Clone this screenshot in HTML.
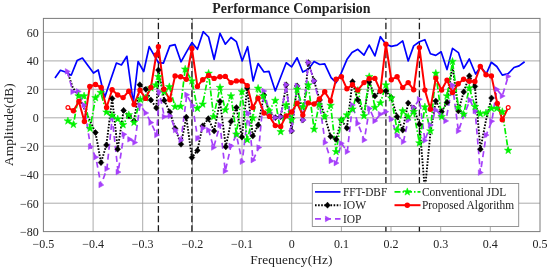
<!DOCTYPE html>
<html lang="en"><head><meta charset="utf-8"><title>Performance Comparision</title>
<style>html,body{margin:0;padding:0;background:#fff}body{width:550px;height:270px;overflow:hidden}svg{display:block}text{font-family:"Liberation Serif", "Times New Roman", serif;fill:#222}</style></head><body>
<svg width="550" height="270" viewBox="0 0 550 270">
<rect width="550" height="270" fill="#fff"/>
<g stroke="#959595" stroke-width="0.8" fill="none">
<line x1="93.1" y1="18.4" x2="93.1" y2="231.6"/>
<line x1="142.7" y1="18.4" x2="142.7" y2="231.6"/>
<line x1="192.4" y1="18.4" x2="192.4" y2="231.6"/>
<line x1="242.0" y1="18.4" x2="242.0" y2="231.6"/>
<line x1="291.7" y1="18.4" x2="291.7" y2="231.6"/>
<line x1="341.4" y1="18.4" x2="341.4" y2="231.6"/>
<line x1="391.0" y1="18.4" x2="391.0" y2="231.6"/>
<line x1="440.7" y1="18.4" x2="440.7" y2="231.6"/>
<line x1="490.3" y1="18.4" x2="490.3" y2="231.6"/>
<line x1="43.4" y1="203.2" x2="540.0" y2="203.2"/>
<line x1="43.4" y1="174.7" x2="540.0" y2="174.7"/>
<line x1="43.4" y1="146.2" x2="540.0" y2="146.2"/>
<line x1="43.4" y1="117.8" x2="540.0" y2="117.8"/>
<line x1="43.4" y1="89.3" x2="540.0" y2="89.3"/>
<line x1="43.4" y1="60.9" x2="540.0" y2="60.9"/>
<line x1="43.4" y1="32.4" x2="540.0" y2="32.4"/>
</g>
<rect x="43.4" y="18.4" width="496.6" height="213.2" fill="none" stroke="#7a7a7a" stroke-width="1"/>
<line x1="158.4" y1="18.4" x2="158.4" y2="231.6" stroke="#1a1a1a" stroke-width="1.3" stroke-dasharray="6.7,2.95" stroke-dashoffset="5.4"/>
<line x1="191.9" y1="18.4" x2="191.9" y2="231.6" stroke="#1a1a1a" stroke-width="1.3" stroke-dasharray="6.7,2.95" stroke-dashoffset="5.4"/>
<line x1="385.9" y1="18.4" x2="385.9" y2="231.6" stroke="#1a1a1a" stroke-width="1.3" stroke-dasharray="6.7,2.95" stroke-dashoffset="5.4"/>
<line x1="419.4" y1="18.4" x2="419.4" y2="231.6" stroke="#1a1a1a" stroke-width="1.3" stroke-dasharray="6.7,2.95" stroke-dashoffset="5.4"/>
<defs>
<path id="dm" d="M0-3.1L2.9 0L0 3.1L-2.9 0Z" fill="#000" stroke="#000" stroke-width="0.4"/>
<path id="tm" d="M-2.1-2.8L2.9 0L-2.1 2.8Z" fill="#a640fa" stroke="#a640fa" stroke-width="0.5"/>
<path id="sm" d="M0-4L0.95-1.3L3.8-1.25L1.55 0.5L2.35 3.25L0 1.6L-2.35 3.25L-1.55 0.5L-3.8-1.25L-0.95-1.3Z" fill="#00f200" stroke="#00f200" stroke-width="0.5"/>
<circle id="cm" r="2.7" fill="#ff0000"/>
<circle id="co" r="1.9" fill="#fff" stroke="#ff0000" stroke-width="1.2"/>
</defs>
<clipPath id="cp"><rect x="43.4" y="18.4" width="496.6" height="213.2"/></clipPath>
<g clip-path="url(#cp)" fill="none" stroke-linejoin="round">
<polyline points="55.0,78.1 60.4,70.3 65.4,72.0 71.2,75.2 77.1,60.6 82.4,58.0 87.9,65.5 93.5,73.0 98.2,70.0 104.7,97.6 110.5,80.3 116.4,63.0 121.4,65.0 126.9,56.3 133.3,103.0 138.1,61.5 143.7,71.5 149.2,46.7 153.8,54.7 158.4,62.6 163.4,63.1 169.8,45.9 175.1,44.7 181.0,61.8 186.4,52.2 191.9,42.6 197.4,49.3 203.2,31.7 208.6,37.0 214.1,59.3 220.0,33.4 225.3,44.2 231.0,37.5 236.4,41.7 242.2,61.0 247.6,46.7 253.1,80.9 258.1,63.6 264.0,72.0 269.0,71.4 275.3,91.0 280.7,77.0 286.2,62.8 291.6,66.9 297.1,57.8 302.8,72.0 308.3,69.2 314.1,61.5 319.7,64.5 324.7,63.8 331.1,77.6 336.1,82.6 341.1,73.4 346.9,59.6 352.0,52.6 357.8,49.3 364.0,55.1 369.2,45.1 374.9,55.9 380.4,36.7 385.9,44.2 391.3,46.4 397.1,45.1 402.7,40.9 408.2,61.0 413.7,45.9 419.4,41.7 424.9,39.7 430.4,53.8 435.8,55.4 441.1,51.8 447.0,69.6 452.5,48.4 458.4,52.6 463.7,68.4 469.3,59.0 475.6,74.0 480.6,66.7 486.4,73.7 491.3,62.3 496.8,66.5 502.3,75.1 508.2,73.7 514.0,67.5 519.1,65.9 524.6,61.7" stroke="#0000ff" stroke-width="1.7"/>
<polyline points="67.4,71.4 72.9,88.0 78.4,95.0 84.0,108.0 89.6,120.0 95.5,132.6 101.0,162.6 106.4,145.0 112.2,98.5 117.7,149.2 123.6,110.4 129.0,116.0 134.0,121.0 139.8,84.8 145.9,89.3 150.9,100.0 156.4,108.0 158.4,70.0 164.3,100.4 169.8,112.0 175.1,128.4 181.0,144.2 186.3,117.2 191.9,157.6 197.4,150.4 202.7,125.9 208.3,118.7 214.1,131.0 220.0,101.4 225.8,146.8 231.0,121.5 236.4,107.5 241.9,137.1 247.2,88.0 252.8,136.0 258.1,125.1 264.0,95.0 269.5,113.0 275.3,117.6 280.7,116.7 286.2,84.8 291.6,130.9 297.1,85.9 302.8,120.0 308.3,62.5 314.1,80.9 319.7,100.0 325.0,117.0 330.6,136.5 336.1,139.3 341.4,120.0 346.9,128.1 352.5,81.7 357.8,100.0 364.0,115.0 369.2,82.0 374.9,96.0 380.4,91.0 385.9,91.0 391.3,97.6 397.1,116.7 402.7,130.1 408.2,103.0 413.7,108.0 419.4,124.3 424.9,190.0 430.4,133.0 435.8,101.0 441.6,111.7 447.0,102.5 452.5,65.5 458.4,110.9 463.7,91.9 469.3,75.9 474.9,86.4 480.4,149.2 486.0,120.0 491.5,98.0" stroke="#000" stroke-width="1.9" stroke-dasharray="1.6,1.5"/>
<polyline points="67.4,71.4 72.9,91.8 78.4,91.4 84.0,105.0 90.5,146.7 95.8,157.2 101.0,185.0 106.9,168.8 112.2,118.0 118.1,172.1 124.0,134.3 129.8,139.3 134.8,142.5 140.0,105.0 145.9,113.0 150.9,122.6 156.7,135.0 159.2,91.8 164.3,116.7 170.1,115.9 175.5,130.0 181.0,140.1 186.8,94.8 192.5,105.5 197.7,138.5 203.0,128.0 208.6,130.1 213.6,147.5 220.0,125.0 225.3,171.0 231.0,145.9 236.4,135.0 242.2,161.7 248.1,113.0 253.1,160.1 258.9,147.5 264.0,91.0 269.5,113.0 275.3,117.6 280.7,116.7 286.2,84.8 291.6,130.9 297.1,85.9 303.3,120.1 308.3,62.5 314.1,80.9 319.7,105.0 325.2,142.5 331.1,160.9 336.1,163.1 341.4,143.3 347.3,151.7 352.5,105.0 357.8,123.4 364.3,140.0 369.5,108.4 374.9,120.9 380.4,114.2 385.9,111.7 391.3,119.2 397.1,135.1 403.4,141.8 408.2,120.0 413.7,107.5 419.4,99.3 424.9,140.5 430.4,125.0 435.8,110.0 441.0,115.0 445.8,120.9 452.5,85.1 458.4,131.0 464.0,115.0 470.0,100.1 475.1,110.9 480.4,172.6 486.2,135.1 491.8,121.2 496.8,89.3 502.3,96.0 508.2,76.4" stroke="#a640fa" stroke-width="1.7" stroke-dasharray="6,4"/>
<polyline points="67.9,121.0 73.4,124.5 78.6,96.0 84.1,96.0 90.1,128.5 95.5,97.8 100.7,92.6 106.5,112.2 112.0,115.5 117.7,119.1 123.1,124.8 128.8,114.9 134.0,122.5 140.3,99.5 145.6,98.0 150.9,88.0 155.9,85.1 158.4,76.7 164.0,92.0 169.3,86.8 175.1,106.7 180.6,106.4 185.2,69.2 191.9,81.0 197.4,108.4 202.7,104.2 208.6,73.4 213.6,116.7 220.0,87.6 225.3,110.0 231.0,96.0 236.4,134.3 241.9,91.8 247.2,139.8 252.8,118.0 258.1,88.4 263.1,96.0 269.0,110.9 275.3,100.5 280.7,131.8 286.2,105.0 291.6,119.7 297.1,89.3 302.8,107.0 308.3,85.1 314.1,129.3 319.0,105.0 324.7,116.7 330.6,105.5 336.1,151.7 341.4,120.1 346.9,115.1 352.5,109.2 357.8,90.5 364.0,115.9 369.2,76.7 374.9,107.5 380.4,103.0 385.9,85.1 391.3,98.0 397.1,130.1 402.7,110.9 408.2,116.7 413.7,111.7 419.4,143.0 424.9,107.0 430.4,131.0 435.8,73.4 441.6,116.7 447.0,96.0 452.5,61.5 458.4,107.5 463.6,114.2 469.3,88.0 475.1,106.7 480.3,113.8 486.0,113.0 491.4,108.4 496.8,108.4 502.3,111.7 508.2,150.4" stroke="#00f200" stroke-width="1.7" stroke-dasharray="6,2,1.5,2"/>
<polyline points="67.9,107.5 73.4,110.8 78.9,101.5 84.4,121.5 89.8,86.5 95.5,84.5 101.2,87.5 106.6,107.5 112.1,89.7 117.7,95.0 123.1,97.6 128.8,91.2 134.1,104.5 140.0,90.1 145.6,98.4 150.9,87.5 156.2,55.0 158.4,46.7 163.9,89.3 169.8,99.8 175.1,75.9 180.6,76.7 186.3,79.2 191.9,48.4 197.4,86.4 202.7,79.7 208.6,75.4 214.1,78.4 220.0,76.7 225.3,76.4 231.0,82.6 236.4,80.9 241.9,80.9 247.2,85.6 252.8,107.5 258.1,98.1 264.0,113.0 269.5,116.4 275.3,125.6 280.7,126.4 286.2,115.9 291.6,112.0 297.1,103.2 302.8,115.1 308.3,102.9 314.1,104.0 319.4,99.0 324.7,91.8 330.6,101.0 336.1,79.2 341.4,76.7 346.9,88.8 352.5,84.8 357.8,90.1 364.0,82.6 369.2,78.7 374.9,78.4 380.4,90.9 385.9,44.2 391.3,79.7 397.1,76.7 402.7,87.6 408.2,82.6 413.7,89.8 419.4,47.6 424.9,90.1 430.4,109.2 435.8,78.1 441.6,90.1 447.0,80.1 452.5,92.6 458.2,83.8 463.6,79.2 469.3,81.2 474.9,81.5 480.3,66.4 486.0,74.7 491.4,75.9 497.3,103.4 502.3,119.7 508.2,107.5" stroke="#ff0000" stroke-width="2"/>
<use href="#dm" x="95.5" y="132.6"/>
<use href="#dm" x="101.0" y="162.6"/>
<use href="#dm" x="106.4" y="145.0"/>
<use href="#dm" x="112.2" y="98.5"/>
<use href="#dm" x="117.7" y="149.2"/>
<use href="#dm" x="123.6" y="110.4"/>
<use href="#dm" x="129.0" y="116.0"/>
<use href="#dm" x="134.0" y="121.0"/>
<use href="#dm" x="139.8" y="84.8"/>
<use href="#dm" x="145.9" y="89.3"/>
<use href="#dm" x="150.9" y="100.0"/>
<use href="#dm" x="156.4" y="108.0"/>
<use href="#dm" x="158.4" y="70.0"/>
<use href="#dm" x="164.3" y="100.4"/>
<use href="#dm" x="169.8" y="112.0"/>
<use href="#dm" x="175.1" y="128.4"/>
<use href="#dm" x="181.0" y="144.2"/>
<use href="#dm" x="186.3" y="117.2"/>
<use href="#dm" x="191.9" y="157.6"/>
<use href="#dm" x="197.4" y="150.4"/>
<use href="#dm" x="202.7" y="125.9"/>
<use href="#dm" x="208.3" y="118.7"/>
<use href="#dm" x="214.1" y="131.0"/>
<use href="#dm" x="220.0" y="101.4"/>
<use href="#dm" x="225.8" y="146.8"/>
<use href="#dm" x="231.0" y="121.5"/>
<use href="#dm" x="236.4" y="107.5"/>
<use href="#dm" x="241.9" y="137.1"/>
<use href="#dm" x="247.2" y="88.0"/>
<use href="#dm" x="252.8" y="136.0"/>
<use href="#dm" x="258.1" y="125.1"/>
<use href="#dm" x="264.0" y="95.0"/>
<use href="#dm" x="269.5" y="113.0"/>
<use href="#dm" x="275.3" y="117.6"/>
<use href="#dm" x="280.7" y="116.7"/>
<use href="#dm" x="286.2" y="84.8"/>
<use href="#dm" x="291.6" y="130.9"/>
<use href="#dm" x="297.1" y="85.9"/>
<use href="#dm" x="302.8" y="120.0"/>
<use href="#dm" x="308.3" y="62.5"/>
<use href="#dm" x="314.1" y="80.9"/>
<use href="#dm" x="319.7" y="100.0"/>
<use href="#dm" x="330.6" y="136.5"/>
<use href="#dm" x="336.1" y="139.3"/>
<use href="#dm" x="341.4" y="120.0"/>
<use href="#dm" x="346.9" y="128.1"/>
<use href="#dm" x="352.5" y="81.7"/>
<use href="#dm" x="357.8" y="100.0"/>
<use href="#dm" x="369.2" y="82.0"/>
<use href="#dm" x="374.9" y="96.0"/>
<use href="#dm" x="380.4" y="91.0"/>
<use href="#dm" x="385.9" y="91.0"/>
<use href="#dm" x="391.3" y="97.6"/>
<use href="#dm" x="397.1" y="116.7"/>
<use href="#dm" x="402.7" y="130.1"/>
<use href="#dm" x="408.2" y="103.0"/>
<use href="#dm" x="413.7" y="108.0"/>
<use href="#dm" x="419.4" y="124.3"/>
<use href="#dm" x="424.9" y="190.0"/>
<use href="#dm" x="435.8" y="101.0"/>
<use href="#dm" x="441.6" y="111.7"/>
<use href="#dm" x="447.0" y="102.5"/>
<use href="#dm" x="458.4" y="110.9"/>
<use href="#dm" x="463.7" y="91.9"/>
<use href="#dm" x="469.3" y="75.9"/>
<use href="#dm" x="474.9" y="86.4"/>
<use href="#dm" x="480.4" y="149.2"/>
<use href="#dm" x="491.5" y="98.0"/>
<use href="#tm" x="67.4" y="71.4"/>
<use href="#tm" x="72.9" y="91.8"/>
<use href="#tm" x="78.4" y="91.4"/>
<use href="#tm" x="84.0" y="105.0"/>
<use href="#tm" x="90.5" y="146.7"/>
<use href="#tm" x="95.8" y="157.2"/>
<use href="#tm" x="101.0" y="185.0"/>
<use href="#tm" x="106.9" y="168.8"/>
<use href="#tm" x="112.2" y="118.0"/>
<use href="#tm" x="118.1" y="172.1"/>
<use href="#tm" x="124.0" y="134.3"/>
<use href="#tm" x="129.8" y="139.3"/>
<use href="#tm" x="134.8" y="142.5"/>
<use href="#tm" x="140.0" y="105.0"/>
<use href="#tm" x="145.9" y="113.0"/>
<use href="#tm" x="150.9" y="122.6"/>
<use href="#tm" x="156.7" y="135.0"/>
<use href="#tm" x="159.2" y="91.8"/>
<use href="#tm" x="164.3" y="116.7"/>
<use href="#tm" x="170.1" y="115.9"/>
<use href="#tm" x="175.5" y="130.0"/>
<use href="#tm" x="181.0" y="140.1"/>
<use href="#tm" x="186.8" y="94.8"/>
<use href="#tm" x="192.5" y="105.5"/>
<use href="#tm" x="197.7" y="138.5"/>
<use href="#tm" x="203.0" y="128.0"/>
<use href="#tm" x="208.6" y="130.1"/>
<use href="#tm" x="213.6" y="147.5"/>
<use href="#tm" x="220.0" y="125.0"/>
<use href="#tm" x="225.3" y="171.0"/>
<use href="#tm" x="231.0" y="145.9"/>
<use href="#tm" x="236.4" y="135.0"/>
<use href="#tm" x="242.2" y="161.7"/>
<use href="#tm" x="248.1" y="113.0"/>
<use href="#tm" x="253.1" y="160.1"/>
<use href="#tm" x="258.9" y="147.5"/>
<use href="#tm" x="264.0" y="91.0"/>
<use href="#tm" x="269.5" y="113.0"/>
<use href="#tm" x="275.3" y="117.6"/>
<use href="#tm" x="280.7" y="116.7"/>
<use href="#tm" x="286.2" y="84.8"/>
<use href="#tm" x="291.6" y="130.9"/>
<use href="#tm" x="297.1" y="85.9"/>
<use href="#tm" x="303.3" y="120.1"/>
<use href="#tm" x="308.3" y="62.5"/>
<use href="#tm" x="314.1" y="80.9"/>
<use href="#tm" x="319.7" y="105.0"/>
<use href="#tm" x="325.2" y="142.5"/>
<use href="#tm" x="331.1" y="160.9"/>
<use href="#tm" x="336.1" y="163.1"/>
<use href="#tm" x="341.4" y="143.3"/>
<use href="#tm" x="347.3" y="151.7"/>
<use href="#tm" x="352.5" y="105.0"/>
<use href="#tm" x="357.8" y="123.4"/>
<use href="#tm" x="364.3" y="140.0"/>
<use href="#tm" x="369.5" y="108.4"/>
<use href="#tm" x="374.9" y="120.9"/>
<use href="#tm" x="380.4" y="114.2"/>
<use href="#tm" x="385.9" y="111.7"/>
<use href="#tm" x="391.3" y="119.2"/>
<use href="#tm" x="397.1" y="135.1"/>
<use href="#tm" x="403.4" y="141.8"/>
<use href="#tm" x="408.2" y="120.0"/>
<use href="#tm" x="413.7" y="107.5"/>
<use href="#tm" x="419.4" y="99.3"/>
<use href="#tm" x="424.9" y="140.5"/>
<use href="#tm" x="430.4" y="125.0"/>
<use href="#tm" x="435.8" y="110.0"/>
<use href="#tm" x="441.0" y="115.0"/>
<use href="#tm" x="445.8" y="120.9"/>
<use href="#tm" x="452.5" y="85.1"/>
<use href="#tm" x="458.4" y="131.0"/>
<use href="#tm" x="464.0" y="115.0"/>
<use href="#tm" x="470.0" y="100.1"/>
<use href="#tm" x="475.1" y="110.9"/>
<use href="#tm" x="480.4" y="172.6"/>
<use href="#tm" x="486.2" y="135.1"/>
<use href="#tm" x="491.8" y="121.2"/>
<use href="#tm" x="496.8" y="89.3"/>
<use href="#tm" x="502.3" y="96.0"/>
<use href="#tm" x="508.2" y="76.4"/>
<use href="#sm" x="67.9" y="121.0"/>
<use href="#sm" x="73.4" y="124.5"/>
<use href="#sm" x="78.6" y="96.0"/>
<use href="#sm" x="84.1" y="96.0"/>
<use href="#sm" x="90.1" y="128.5"/>
<use href="#sm" x="95.5" y="97.8"/>
<use href="#sm" x="100.7" y="92.6"/>
<use href="#sm" x="106.5" y="112.2"/>
<use href="#sm" x="112.0" y="115.5"/>
<use href="#sm" x="117.7" y="119.1"/>
<use href="#sm" x="123.1" y="124.8"/>
<use href="#sm" x="128.8" y="114.9"/>
<use href="#sm" x="134.0" y="122.5"/>
<use href="#sm" x="140.3" y="99.5"/>
<use href="#sm" x="145.6" y="98.0"/>
<use href="#sm" x="150.9" y="88.0"/>
<use href="#sm" x="155.9" y="85.1"/>
<use href="#sm" x="158.4" y="76.7"/>
<use href="#sm" x="164.0" y="92.0"/>
<use href="#sm" x="169.3" y="86.8"/>
<use href="#sm" x="175.1" y="106.7"/>
<use href="#sm" x="180.6" y="106.4"/>
<use href="#sm" x="185.2" y="69.2"/>
<use href="#sm" x="191.9" y="81.0"/>
<use href="#sm" x="197.4" y="108.4"/>
<use href="#sm" x="202.7" y="104.2"/>
<use href="#sm" x="208.6" y="73.4"/>
<use href="#sm" x="213.6" y="116.7"/>
<use href="#sm" x="220.0" y="87.6"/>
<use href="#sm" x="225.3" y="110.0"/>
<use href="#sm" x="231.0" y="96.0"/>
<use href="#sm" x="236.4" y="134.3"/>
<use href="#sm" x="241.9" y="91.8"/>
<use href="#sm" x="247.2" y="139.8"/>
<use href="#sm" x="252.8" y="118.0"/>
<use href="#sm" x="258.1" y="88.4"/>
<use href="#sm" x="263.1" y="96.0"/>
<use href="#sm" x="269.0" y="110.9"/>
<use href="#sm" x="275.3" y="100.5"/>
<use href="#sm" x="280.7" y="131.8"/>
<use href="#sm" x="286.2" y="105.0"/>
<use href="#sm" x="291.6" y="119.7"/>
<use href="#sm" x="297.1" y="89.3"/>
<use href="#sm" x="302.8" y="107.0"/>
<use href="#sm" x="308.3" y="85.1"/>
<use href="#sm" x="314.1" y="129.3"/>
<use href="#sm" x="319.0" y="105.0"/>
<use href="#sm" x="324.7" y="116.7"/>
<use href="#sm" x="330.6" y="105.5"/>
<use href="#sm" x="336.1" y="151.7"/>
<use href="#sm" x="341.4" y="120.1"/>
<use href="#sm" x="346.9" y="115.1"/>
<use href="#sm" x="352.5" y="109.2"/>
<use href="#sm" x="357.8" y="90.5"/>
<use href="#sm" x="364.0" y="115.9"/>
<use href="#sm" x="369.2" y="76.7"/>
<use href="#sm" x="374.9" y="107.5"/>
<use href="#sm" x="380.4" y="103.0"/>
<use href="#sm" x="385.9" y="85.1"/>
<use href="#sm" x="391.3" y="98.0"/>
<use href="#sm" x="397.1" y="130.1"/>
<use href="#sm" x="402.7" y="110.9"/>
<use href="#sm" x="408.2" y="116.7"/>
<use href="#sm" x="413.7" y="111.7"/>
<use href="#sm" x="419.4" y="143.0"/>
<use href="#sm" x="424.9" y="107.0"/>
<use href="#sm" x="430.4" y="131.0"/>
<use href="#sm" x="435.8" y="73.4"/>
<use href="#sm" x="441.6" y="116.7"/>
<use href="#sm" x="447.0" y="96.0"/>
<use href="#sm" x="452.5" y="61.5"/>
<use href="#sm" x="458.4" y="107.5"/>
<use href="#sm" x="463.6" y="114.2"/>
<use href="#sm" x="469.3" y="88.0"/>
<use href="#sm" x="475.1" y="106.7"/>
<use href="#sm" x="480.3" y="113.8"/>
<use href="#sm" x="486.0" y="113.0"/>
<use href="#sm" x="491.4" y="108.4"/>
<use href="#sm" x="496.8" y="108.4"/>
<use href="#sm" x="502.3" y="111.7"/>
<use href="#sm" x="508.2" y="150.4"/>
<use href="#co" x="67.9" y="107.5"/>
<use href="#cm" x="73.4" y="110.8"/>
<use href="#cm" x="78.9" y="101.5"/>
<use href="#cm" x="84.4" y="121.5"/>
<use href="#cm" x="89.8" y="86.5"/>
<use href="#cm" x="95.5" y="84.5"/>
<use href="#cm" x="101.2" y="87.5"/>
<use href="#cm" x="106.6" y="107.5"/>
<use href="#cm" x="112.1" y="89.7"/>
<use href="#cm" x="117.7" y="95.0"/>
<use href="#cm" x="123.1" y="97.6"/>
<use href="#cm" x="128.8" y="91.2"/>
<use href="#cm" x="134.1" y="104.5"/>
<use href="#cm" x="140.0" y="90.1"/>
<use href="#cm" x="145.6" y="98.4"/>
<use href="#cm" x="150.9" y="87.5"/>
<use href="#cm" x="156.2" y="55.0"/>
<use href="#cm" x="158.4" y="46.7"/>
<use href="#cm" x="163.9" y="89.3"/>
<use href="#cm" x="169.8" y="99.8"/>
<use href="#cm" x="175.1" y="75.9"/>
<use href="#cm" x="180.6" y="76.7"/>
<use href="#cm" x="186.3" y="79.2"/>
<use href="#cm" x="191.9" y="48.4"/>
<use href="#cm" x="197.4" y="86.4"/>
<use href="#cm" x="202.7" y="79.7"/>
<use href="#cm" x="208.6" y="75.4"/>
<use href="#cm" x="214.1" y="78.4"/>
<use href="#cm" x="220.0" y="76.7"/>
<use href="#cm" x="225.3" y="76.4"/>
<use href="#cm" x="231.0" y="82.6"/>
<use href="#cm" x="236.4" y="80.9"/>
<use href="#cm" x="241.9" y="80.9"/>
<use href="#cm" x="247.2" y="85.6"/>
<use href="#cm" x="252.8" y="107.5"/>
<use href="#cm" x="258.1" y="98.1"/>
<use href="#cm" x="264.0" y="113.0"/>
<use href="#cm" x="269.5" y="116.4"/>
<use href="#cm" x="275.3" y="125.6"/>
<use href="#cm" x="280.7" y="126.4"/>
<use href="#cm" x="286.2" y="115.9"/>
<use href="#cm" x="291.6" y="112.0"/>
<use href="#cm" x="297.1" y="103.2"/>
<use href="#cm" x="302.8" y="115.1"/>
<use href="#cm" x="308.3" y="102.9"/>
<use href="#cm" x="314.1" y="104.0"/>
<use href="#cm" x="319.4" y="99.0"/>
<use href="#cm" x="324.7" y="91.8"/>
<use href="#cm" x="330.6" y="101.0"/>
<use href="#cm" x="336.1" y="79.2"/>
<use href="#cm" x="341.4" y="76.7"/>
<use href="#cm" x="346.9" y="88.8"/>
<use href="#cm" x="352.5" y="84.8"/>
<use href="#cm" x="357.8" y="90.1"/>
<use href="#cm" x="364.0" y="82.6"/>
<use href="#cm" x="369.2" y="78.7"/>
<use href="#cm" x="374.9" y="78.4"/>
<use href="#cm" x="380.4" y="90.9"/>
<use href="#cm" x="385.9" y="44.2"/>
<use href="#cm" x="391.3" y="79.7"/>
<use href="#cm" x="397.1" y="76.7"/>
<use href="#cm" x="402.7" y="87.6"/>
<use href="#cm" x="408.2" y="82.6"/>
<use href="#cm" x="413.7" y="89.8"/>
<use href="#cm" x="419.4" y="47.6"/>
<use href="#cm" x="424.9" y="90.1"/>
<use href="#cm" x="430.4" y="109.2"/>
<use href="#cm" x="435.8" y="78.1"/>
<use href="#cm" x="441.6" y="90.1"/>
<use href="#cm" x="447.0" y="80.1"/>
<use href="#cm" x="452.5" y="92.6"/>
<use href="#cm" x="458.2" y="83.8"/>
<use href="#cm" x="463.6" y="79.2"/>
<use href="#cm" x="469.3" y="81.2"/>
<use href="#cm" x="474.9" y="81.5"/>
<use href="#cm" x="480.3" y="66.4"/>
<use href="#cm" x="486.0" y="74.7"/>
<use href="#cm" x="491.4" y="75.9"/>
<use href="#cm" x="497.3" y="103.4"/>
<use href="#cm" x="502.3" y="119.7"/>
<use href="#co" x="508.2" y="107.5"/>
</g>
<rect x="312.3" y="183.5" width="206.4" height="43" fill="#fff" stroke="#8a8a8a" stroke-width="0.9"/>
<line x1="315" y1="191.9" x2="340.5" y2="191.9" stroke="#0000ff" stroke-width="1.7"/>
<line x1="315" y1="205.2" x2="340.5" y2="205.2" stroke="#000" stroke-width="1.9" stroke-dasharray="1.6,1.5"/><use href="#dm" x="327.5" y="205.2"/>
<line x1="315" y1="218.9" x2="340.5" y2="218.9" stroke="#a640fa" stroke-width="1.7" stroke-dasharray="6,4"/><use href="#tm" x="327.5" y="218.9"/>
<line x1="394.5" y1="191.9" x2="420.5" y2="191.9" stroke="#00f200" stroke-width="1.7" stroke-dasharray="6,2,1.5,2"/><use href="#sm" x="407.3" y="191.9"/>
<line x1="394.5" y1="205.2" x2="420.5" y2="205.2" stroke="#ff0000" stroke-width="2"/><use href="#cm" x="407.3" y="205.2"/>
<g font-size="12px" lengthAdjust="spacingAndGlyphs">
<text x="343" y="195.9" lengthAdjust="spacingAndGlyphs" textLength="44.2">FFT-DBF</text>
<text x="343" y="209.2" lengthAdjust="spacingAndGlyphs" textLength="23.2">IOW</text>
<text x="343" y="222.9" lengthAdjust="spacingAndGlyphs" textLength="18.5">IOP</text>
<text x="421.9" y="195.9" lengthAdjust="spacingAndGlyphs" textLength="84.4">Conventional JDL</text>
<text x="421.9" y="209.2" lengthAdjust="spacingAndGlyphs" textLength="92.2">Proposed Algorithm</text>
</g>
<g font-size="12px" text-anchor="end">
<text x="38.7" y="235.9">−80</text>
<text x="38.7" y="207.5">−60</text>
<text x="38.7" y="179.0">−40</text>
<text x="38.7" y="150.6">−20</text>
<text x="38.7" y="122.1">0</text>
<text x="38.7" y="93.6">20</text>
<text x="38.7" y="65.2">40</text>
<text x="38.7" y="36.7">60</text>
</g>
<g font-size="12px" text-anchor="middle">
<text x="43.4" y="248.2">−0.5</text>
<text x="93.1" y="248.2">−0.4</text>
<text x="142.7" y="248.2">−0.3</text>
<text x="192.4" y="248.2">−0.2</text>
<text x="242.0" y="248.2">−0.1</text>
<text x="291.7" y="248.2">0</text>
<text x="341.4" y="248.2">0.1</text>
<text x="391.0" y="248.2">0.2</text>
<text x="440.7" y="248.2">0.3</text>
<text x="490.3" y="248.2">0.4</text>
<text x="540.0" y="248.2">0.5</text>
</g>
<text x="250.2" y="264" font-size="13.4px" textLength="82.3">Frequency(Hz)</text>
<text transform="translate(13.4,165.9) rotate(-90)" font-size="13.4px" textLength="82.6">Amplitude(dB)</text>
<text x="212.3" y="12.5" font-size="14px" font-weight="bold" lengthAdjust="spacingAndGlyphs" textLength="158.3" fill="#000">Performance Comparision</text>
</svg></body></html>
